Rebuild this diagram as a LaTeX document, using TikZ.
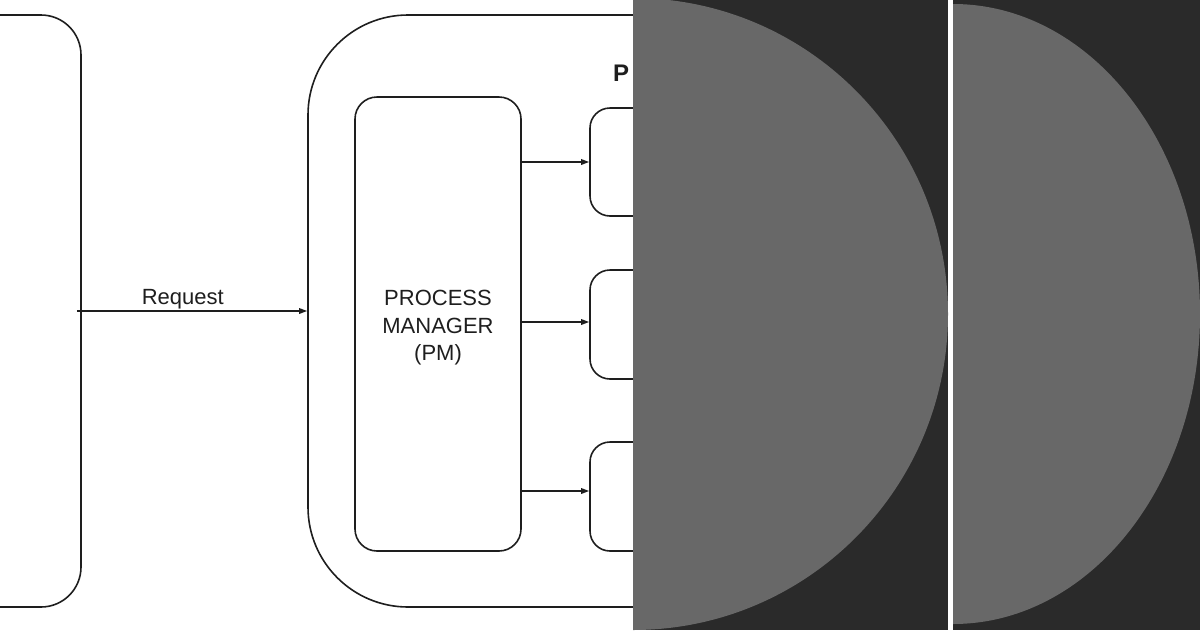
\documentclass[tikz,border=0pt]{standalone}
\usepackage{fontspec}
\setmainfont{Liberation Sans}
\usetikzlibrary{arrows.meta,positioning,calc}
\definecolor{Ink}{HTML}{1E1E1E}
\definecolor{Panel}{HTML}{2A2A2A}
\definecolor{Disc}{HTML}{686868}

\begin{document}
\begin{tikzpicture}[x=1pt,y=-1pt,>={Triangle[length=8pt,width=5.5pt]},
  box/.style={draw=Ink,line width=1.6pt,inner sep=0pt,align=center},
  flow/.style={->,draw=Ink,line width=1.6pt},
  label/.style={font=\fontsize{22}{27.5}\selectfont,text=Ink}]
\useasboundingbox (0,0) rectangle (1200,630);
% sender box, mostly off the page
\node[box,rounded corners=40pt,minimum width=181pt,minimum height=592pt] (client) at (-9.5,311) {};
% outer container
\node[box,rounded corners=100pt,minimum width=592pt,minimum height=592pt] (outer) at (604,311) {};
\node[font=\fontsize{24}{28}\selectfont\bfseries,text=Ink,anchor=west,inner sep=0pt] (title) at (613,73) {P};
% process manager
\node[box,rounded corners=22pt,minimum width=166pt,minimum height=454pt] (pm) at (438,324) {};
\node[label,align=center] (pmtext) at ([yshift=-4pt]pm.center) {PROCESS\\MANAGER\\(PM)};
% workers
\node[box,rounded corners=20pt,minimum width=170pt,minimum height=108pt] (work1) at (675,162) {};
\node[box,rounded corners=20pt,minimum width=170pt,minimum height=109pt] (work2) at (675,324.5) {};
\node[box,rounded corners=20pt,minimum width=170pt,minimum height=109pt] (work3) at (675,496.5) {};
% connectors
\draw[flow] ([xshift=-5pt]client.east) -- node[label,pos=0.46,above=-2pt] (req) {Request} (outer.west);
\draw[flow] (pm.east |- work1.west) -- (work1.west);
\draw[flow] ($(pm.east |- work2.west)+(0,-2.5)$) -- ($(work2.west)+(0,-2.5)$);
\draw[flow] ($(pm.east |- work3.west)+(0,-5.5)$) -- ($(work3.west)+(0,-5.5)$);
% dark panels on the right
\fill[Panel] (633,0) rectangle (948,630);
\begin{scope}
  \clip (633,0) rectangle (948,630);
  \fill[Disc] (633,314) ellipse [x radius=315, y radius=316];
\end{scope}
\fill[Panel] (953,0) rectangle (1200,630);
\begin{scope}
  \clip (953,0) rectangle (1200,630);
  \fill[Disc] (953,314) ellipse [x radius=247, y radius=310];
\end{scope}
\end{tikzpicture}
\end{document}
